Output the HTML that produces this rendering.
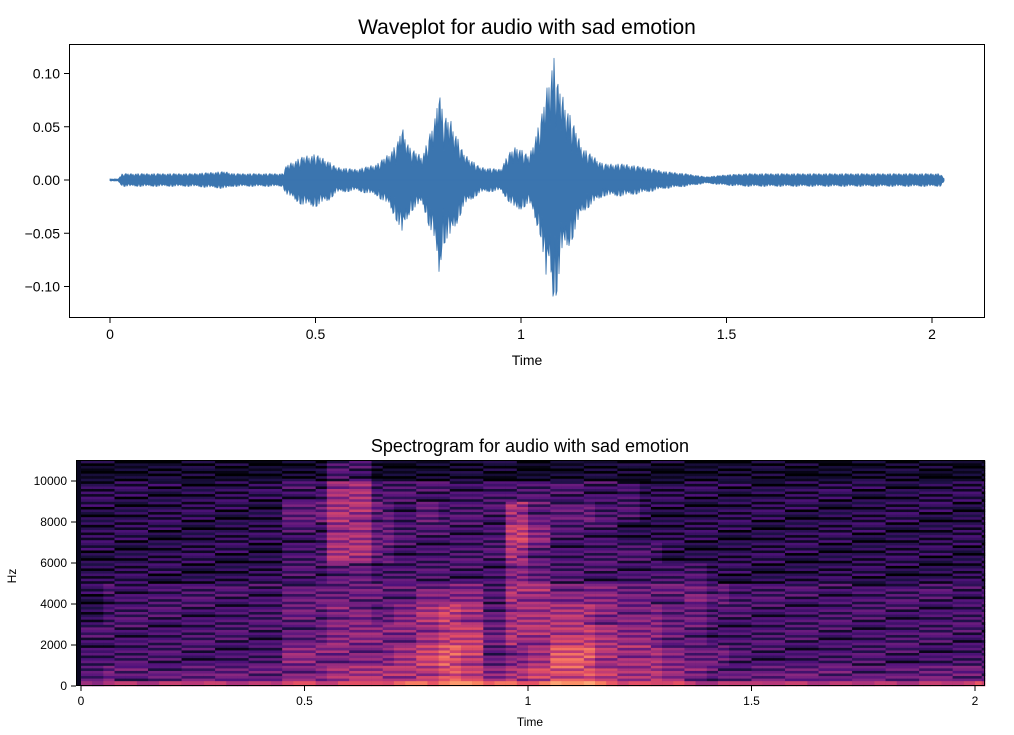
<!DOCTYPE html>
<html><head><meta charset="utf-8"><style>
body{margin:0;background:#fff;}
svg{display:block;font-family:"Liberation Sans","DejaVu Sans",sans-serif;}
</style></head><body>
<svg id="fig" width="1014" height="735" viewBox="0 0 1014 735" xmlns="http://www.w3.org/2000/svg">
<rect width="1014" height="735" fill="#fff"/>
<text x="527" y="34" font-size="21" text-anchor="middle" fill="#000">Waveplot for audio with sad emotion</text>
<g id="wave"></g>
<text x="527" y="365" font-size="14" text-anchor="middle">Time</text>
<text x="530" y="452" font-size="18" text-anchor="middle" fill="#000">Spectrogram for audio with sad emotion</text>
<g id="spec"></g>
<text x="530" y="726" font-size="12" text-anchor="middle">Time</text>
<text x="0" y="0" font-size="12" text-anchor="middle" transform="translate(16,576) rotate(-90)">Hz</text>
</svg>
<script>
const waveT=[0,0.02,0.03,0.1,0.2,0.28,0.3,0.35,0.42,0.43,0.47,0.5,0.53,0.55,0.6,0.65,0.68,0.7,0.71,0.73,0.76,0.78,0.79,0.8,0.81,0.83,0.86,0.9,0.95,0.97,0.99,1.02,1.05,1.06,1.07,1.08,1.09,1.1,1.12,1.15,1.2,1.25,1.3,1.35,1.4,1.45,1.5,1.55,1.6,1.7,1.8,1.9,2.0,2.02,2.03];
const waveUp=[1,1,6,6,6,8,6,6,6,14,22,24,18,12,10,15,25,35,50,30,22,45,55,90,60,55,25,12,10,25,32,22,60,80,100,115,90,80,60,30,15,15,12,8,6,3,5,6,6,6,6,6,6,6,1];
const waveLo=[-1,-1,-6,-6,-6,-8,-6,-6,-6,-14,-24,-25,-20,-12,-10,-15,-25,-40,-53,-30,-22,-48,-60,-92,-60,-55,-25,-12,-10,-20,-30,-22,-55,-100,-80,-117,-100,-70,-60,-30,-15,-15,-12,-8,-6,-3,-5,-6,-6,-6,-6,-6,-6,-6,-1];
const waveXTicks=[0,0.5,1,1.5,2];
const waveXTickLabels=["0","0.5","1","1.5","2"];
const waveYTicks=[0.10,0.05,0,-0.05,-0.10];
const waveYTickLabels=["0.10","0.05","0.00","\u22120.05","\u22120.10"];

const specTimes=[];for(let i=0;i<41;i++)specTimes.push(+(i*0.05).toFixed(2));
const bgCol=[4,3,3,3,3,2,2,2,2,2,1];
const specLevels=[
[3,3,3,2,2,2,2,2,2,2,1],
bgCol,bgCol,bgCol,bgCol,bgCol,bgCol,bgCol,bgCol,
[5,5,4,4,4,3,3,3,4,3,1],
[5,5,4,4,4,3,3,3,4,3,1],
[6,5,5,5,4,4,6,6,6,6,3],
[6,5,5,5,4,4,6,6,6,6,3],
[6,5,5,4,4,3,4,4,4,3,1],
[6,6,5,5,4,3,3,3,3,3,1],
[7,7,6,6,5,3,3,3,4,3,1],
[8,8,7,7,5,3,3,3,3,3,1],
[7,7,7,6,5,3,3,3,3,3,1],
[5,4,4,4,3,3,3,3,3,3,1],
[6,5,6,6,6,5,6,7,6,3,1],
[7,6,6,6,6,4,4,5,4,3,1],
[8,8,7,6,5,3,3,3,4,3,1],
[8,8,7,6,5,3,3,3,4,3,1],
[7,6,6,5,5,3,3,3,3,3,1],
[6,6,5,5,4,3,3,2,3,3,1],
[6,6,5,5,4,3,3,2,2,2,1],
[5,5,4,4,4,3,2,2,2,2,1],
[5,4,4,4,5,3,2,2,2,2,1],
[4,4,3,3,4,2,2,2,2,2,1],
bgCol,bgCol,bgCol,bgCol,bgCol,bgCol,bgCol,bgCol,bgCol,bgCol,bgCol,bgCol];
const lowBand=[5,6,6,6,6,6,6,6,6,7,7,7,7,7,8,8,9,9,8,8,8,9,9,8,7,7,7,6,6,6,6,6,6,6,6,6,6,6,6,6,7];
const specXTicks=[0,0.5,1,1.5,2];
const specXTickLabels=["0","0.5","1","1.5","2"];
const specYTicks=[0,2000,4000,6000,8000,10000];
const specYTickLabels=["0","2000","4000","6000","8000","10000"];

const NS="http://www.w3.org/2000/svg";
function mk(tag,attrs,parent){const e=document.createElementNS(NS,tag);for(const k in attrs)e.setAttribute(k,attrs[k]);parent.appendChild(e);return e;}
function envAt(arr,t){for(let i=1;i<waveT.length;i++){if(t<=waveT[i]){const f=(t-waveT[i-1])/(waveT[i]-waveT[i-1]);return arr[i-1]+(arr[i]-arr[i-1])*f;}}return arr[arr.length-1];}

// Waveplot
const W=document.getElementById('wave');
const wx=t=>110+t*411, wy=v=>180-v*1065;
const jitter=[1,0.7,0.95,0.55,0.85,1,0.65,0.9,0.5,0.8,0.95,0.6,1,0.75,0.45,0.9];
let up=[],lo=[];
const step=1/411;
for(let k=0,t=0;t<=2.03;k++,t=k*step){
  const j=jitter[k%jitter.length], j2=jitter[(k*7+3)%jitter.length];
  up.push(wx(t).toFixed(1)+","+wy(envAt(waveUp,t)/1000*j).toFixed(1));
  lo.push(wx(t).toFixed(1)+","+wy(envAt(waveLo,t)/1000*j2).toFixed(1));
}
const pts=up.concat(lo.reverse());
const poly=mk('polygon',{points:pts.join(' '),fill:'#3b75af',stroke:'#3b75af','stroke-width':0.8,'stroke-linejoin':'round'},W);


const zl=mk('line',{x1:wx(0),x2:wx(2.03),y1:wy(0),y2:wy(0),stroke:'#3b75af','stroke-width':1.5},W);


const wb=mk('rect',{x:69.5,y:44.5,width:915,height:273,fill:'none',stroke:'#000','stroke-width':1},W);


waveXTicks.forEach((t,i)=>{
  mk('line',{x1:wx(t),x2:wx(t),y1:318,y2:323,stroke:'#000'},W);
  const tx=mk('text',{x:wx(t),y:339,'font-size':14,'text-anchor':'middle'},W);tx.textContent=waveXTickLabels[i];
  
  
});
waveYTicks.forEach((v,i)=>{
  mk('line',{x1:64,x2:69,y1:wy(v),y2:wy(v),stroke:'#000'},W);
  const tx=mk('text',{x:60,y:wy(v)+5,'font-size':14,'text-anchor':'end'},W);tx.textContent=waveYTickLabels[i];
  
  
});

// Spectrogram
const S=document.getElementById('spec');
const sx=t=>81+t*447, sy=f=>686-f*0.0205;
const stops=[[0,[0,0,4]],[0.13,[28,16,68]],[0.25,[79,18,123]],[0.38,[129,37,129]],[0.5,[181,54,122]],[0.63,[229,80,100]],[0.75,[251,135,97]],[0.88,[254,194,135]],[1,[252,253,191]]];
function magma(v){v=Math.max(0,Math.min(1,v));for(let i=1;i<stops.length;i++){if(v<=stops[i][0]){const a=stops[i-1],b=stops[i],f=(v-a[0])/(b[0]-a[0]);return 'rgb('+a[1].map((c,k)=>Math.round(c+(b[1][k]-c)*f)).join(',')+')';}}return 'rgb(252,253,191)';}
const texture=[0.02,-0.1,0.05,-0.16,0.07,-0.03,0.09,-0.12,0.03,-0.07,0.06,-0.2,0.04,0,-0.05,0.08,-0.14];
mk('rect',{x:76,y:460,width:909,height:226,fill:'#000004'},S);
const tEnd=2.03, fTop=11025, NR=88, NC=2;
for(let c=0;c<specTimes.length;c++){
  const t0=specTimes[c], t1=Math.min(c+1<specTimes.length?specTimes[c+1]:tEnd,tEnd);
  const lev=specLevels[c];
  for(let sc=0;sc<NC;sc++){
    const a=t0+(t1-t0)*sc/NC, b=t0+(t1-t0)*(sc+1)/NC;
    const x0=Math.max(sx(a),76), x1=Math.min(sx(b),985);
    for(let s=0;s<NR;s++){
      const band=Math.min(Math.floor(s/8),10);
      const f0=s*125, f1=Math.min((s+1)*125,fTop);
      let v=lev[band]/12.5+texture[(s*3+Math.floor((c*NC+sc)/3)*5)%texture.length];
      if(s<2)v=lowBand[c]/11.5+texture[(sc+c)%texture.length]*0.4;
      mk('rect',{x:x0.toFixed(2),y:sy(f1).toFixed(2),width:(x1-x0+0.3).toFixed(2),height:(sy(f0)-sy(f1)+0.3).toFixed(2),fill:magma(v)},S);
    }
  }
}
mk('rect',{x:76,y:460,width:5,height:226,fill:'#0a0620'},S);
const sb=mk('rect',{x:76.5,y:460.5,width:908,height:225,fill:'none',stroke:'#000','stroke-width':1},S);


specXTicks.forEach((t,i)=>{
  mk('line',{x1:sx(t),x2:sx(t),y1:686,y2:691,stroke:'#000'},S);
  const tx=mk('text',{x:sx(t),y:705,'font-size':12,'text-anchor':'middle'},S);tx.textContent=specXTickLabels[i];
  
  
});
specYTicks.forEach((f,i)=>{
  mk('line',{x1:71,x2:76,y1:sy(f),y2:sy(f),stroke:'#000'},S);
  const tx=mk('text',{x:67,y:sy(f)+4,'font-size':12,'text-anchor':'end'},S);tx.textContent=specYTickLabels[i];
  
  
});
</script>
</body></html>
